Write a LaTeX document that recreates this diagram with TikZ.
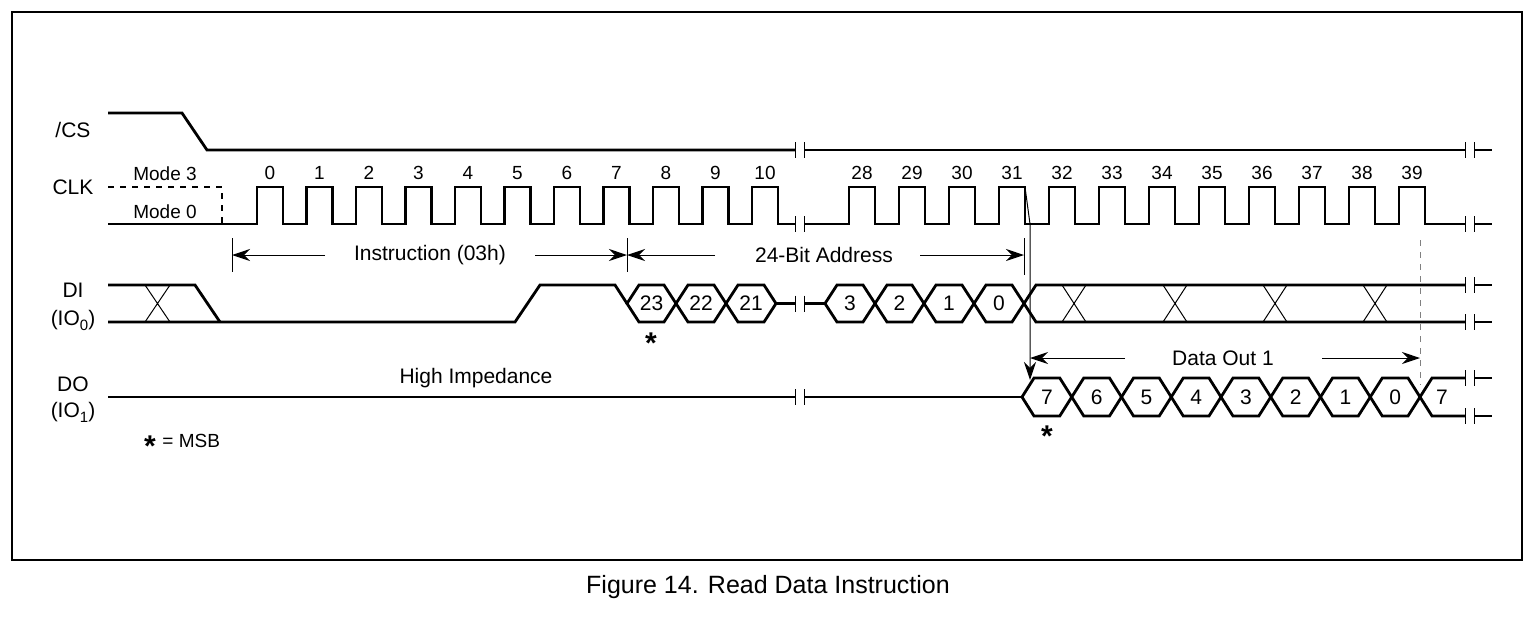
\documentclass[tikz,border=0pt]{standalone}
\usepackage{fontspec}
\setmainfont{Liberation Sans}
\usetikzlibrary{arrows.meta}
\newcommand\tbrk[2]{\draw[thinl] (#1,#2-8)--(#1,#2+8) (#1+9,#2-8)--(#1+9,#2+8);}
\newcommand\hx[5]{\draw[sig] (#1,{(#3+#4)/2}) -- (#1+12,#3) -- (#2-12,#3) -- (#2,{(#3+#4)/2}) -- (#2-12,#4) -- (#1+12,#4) -- cycle;
 \node[lbl] at ({(#1+#2)/2},{(#3+#4)/2}) {#5};}
\newcommand\lowsub[1]{\raisebox{-0.45ex}{\fontsize{7.5}{8}\selectfont #1}}
\begin{document}
\begin{tikzpicture}[x=0.5pt,y=-0.5pt,
 sig/.style={line width=1.4pt,line join=miter},
 thinl/.style={line width=0.5pt},
 arr/.style={line width=0.5pt,-{Stealth[length=9pt,width=6pt]}},
 lbl/.style={font=\fontsize{10.5}{12}\selectfont,inner sep=0},
 num/.style={font=\fontsize{9.5}{11}\selectfont,inner sep=0}]
\useasboundingbox (0,0) rectangle (1536,618);
\draw[line width=0.8pt] (12,12) rectangle (1522,560);
% labels
\node[lbl] (lcs) at (73,130) {/CS};
\node[lbl] (lclk) at (73,187) {CLK};
\node[lbl] (ldi) at (73,290) {DI};
\node[lbl] (ldi2) at (73,320) {(IO\lowsub{0})};
\node[lbl] (ldo) at (73,384) {DO};
\node[lbl] (ldo2) at (73,412) {(IO\lowsub{1})};
\node[num] (m3) at (165,174) {Mode 3};
\node[num] (m0) at (165,212) {Mode 0};
% CS
\draw[sig] (108,113)--(182,113)--(207,150)--(795,150);
\draw[sig] (804,150)--(1465,150);
\draw[sig] (1474,150)--(1492,150);
\tbrk{795}{150}\tbrk{1465}{150}
% CLK
\draw[sig,dashed] (108,187)--(222,187)--(222,224);
\draw[sig] (108,224) foreach \k in {0,...,10}{ -- ({257+49.5*\k},224) -- ++(0,-37) -- ++(26,0) -- ++(0,37)} -- (795,224);
\foreach \k in {0,...,10}{\node[num] at ({270+49.5*\k},173) {\k};}
\draw[sig] (804,224) foreach \k in {0,...,11}{ -- ({849+50*\k},224) -- ++(0,-37) -- ++(26,0) -- ++(0,37)} -- (1465,224);
\foreach \k in {0,...,11}{\pgfmathtruncatemacro\n{28+\k}\node[num] at ({862+50*\k},173) {\n};}
\draw[sig] (1474,224)--(1492,224);
\tbrk{795}{224}\tbrk{1465}{224}
% arrows row
\draw[thinl] (232,238)--(232,272) (627,238)--(627,272) (1024,238)--(1024,275);
\node[lbl] (instr) at (430,255) {Instruction (03h)};
\node[lbl] (addr) at (824,255) {24-Bit Address};
\draw[arr] (325,255)--(232,255);
\draw[arr] (535,255)--(627,255);
\draw[arr] (715,255)--(627,255);
\draw[arr] (920,255)--(1024,255);
% DI
\draw[sig] (108,285)--(195,285)--(220,322);
\draw[sig] (108,322)--(515,322)--(540,285)--(615,285)--(627,303.5);
\draw[thinl] (145,285)--(170,322) (145,322)--(170,285);
\hx{627}{676}{285}{322}{23}
\hx{676}{726}{285}{322}{22}
\hx{726}{776}{285}{322}{21}
\draw[sig] (776,303.5)--(795,303.5);
\draw[sig] (804,303.5)--(825,303.5);
\hx{825}{875}{285}{322}{3}
\hx{875}{924}{285}{322}{2}
\hx{924}{974}{285}{322}{1}
\hx{974}{1024}{285}{322}{0}
\draw[sig] (1024,303.5)--(1036,285)--(1465,285);
\draw[sig] (1024,303.5)--(1036,322)--(1465,322);
\foreach \c in {1074,1175,1275,1375}{\draw[thinl] (\c-12,285)--(\c+12,322) (\c-12,322)--(\c+12,285);}
\draw[sig] (1474,285)--(1492,285) (1474,322)--(1492,322);
\tbrk{795}{303.5}\tbrk{1465}{285}\tbrk{1465}{322}
\node[font=\fontsize{15}{15}\selectfont\bfseries,inner sep=0] at (651,343) {*};
% data out arrow
\draw[thinl,dashed,gray] (1420,240)--(1420,385);
\draw[arr] (1025,187)--(1030,224)--(1030,380);
\node[lbl] (dout) at (1223,358) {Data Out 1};
\draw[arr] (1125,358)--(1030,358);
\draw[arr] (1322,358)--(1420,358);
% DO
\node[lbl] (hiz) at (476,378) {High Impedance};
\draw[sig] (108,397)--(795,397);
\draw[sig] (804,397)--(1022,397);
\tbrk{795}{397}
\foreach \v [count=\i from 0] in {7,6,5,4,3,2,1,0}{\hx{1022+49.75*\i}{1071.75+49.75*\i}{378}{416}{\v}}
\draw[sig] (1420,397)--(1432,378)--(1465,378);
\draw[sig] (1420,397)--(1432,416)--(1465,416);
\node[lbl] at (1442,397) {7};
\draw[sig] (1474,378)--(1492,378) (1474,416)--(1492,416);
\tbrk{1465}{378}\tbrk{1465}{416}
\node[font=\fontsize{15}{15}\selectfont\bfseries,inner sep=0] at (1047,436) {*};
\node[font=\fontsize{15}{15}\selectfont\bfseries,inner sep=0] at (150,446) {*};
\node[num,anchor=west] at (162,441) {= MSB};
% caption
\node[font=\fontsize{12.5}{14}\selectfont] (cap) at (768,587) {Figure 14. Read Data Instruction};
\end{tikzpicture}
\end{document}
